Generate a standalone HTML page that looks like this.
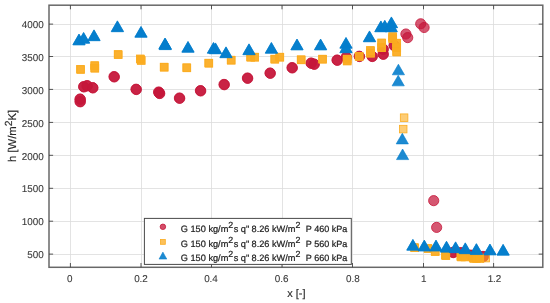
<!DOCTYPE html>
<html><head><meta charset="utf-8"><title>h vs x</title>
<style>
html,body{margin:0;padding:0;background:#fff;}
body{width:550px;height:303px;overflow:hidden;}
svg{display:block}
text{font-family:"Liberation Sans",sans-serif;fill:#333;text-rendering:geometricPrecision;}
.t{font-size:9.9px;fill:#3a3a3a;stroke:#3a3a3a;stroke-width:0.1px;}
.l{font-size:11.3px;fill:#2a2a2a;stroke:#2a2a2a;stroke-width:0.15px;}
.g{font-size:9.2px;fill:#1c1c1c;stroke:#1c1c1c;stroke-width:0.22px;}
</style></head><body>
<svg width="550" height="303" viewBox="0 0 550 303">
<rect width="550" height="303" fill="#fff"/>
<g stroke="#dcdcdc" stroke-width="0.8" fill="none">
<line x1="70.5" y1="5.2" x2="70.5" y2="267.3"/>
<line x1="141.5" y1="5.2" x2="141.5" y2="267.3"/>
<line x1="211.5" y1="5.2" x2="211.5" y2="267.3"/>
<line x1="282.5" y1="5.2" x2="282.5" y2="267.3"/>
<line x1="352.5" y1="5.2" x2="352.5" y2="267.3"/>
<line x1="423.5" y1="5.2" x2="423.5" y2="267.3"/>
<line x1="493.5" y1="5.2" x2="493.5" y2="267.3"/>
<line x1="49.0" y1="24.5" x2="542.8" y2="24.5"/>
<line x1="49.0" y1="56.5" x2="542.8" y2="56.5"/>
<line x1="49.0" y1="89.5" x2="542.8" y2="89.5"/>
<line x1="49.0" y1="122.5" x2="542.8" y2="122.5"/>
<line x1="49.0" y1="155.5" x2="542.8" y2="155.5"/>
<line x1="49.0" y1="188.5" x2="542.8" y2="188.5"/>
<line x1="49.0" y1="221.5" x2="542.8" y2="221.5"/>
<line x1="49.0" y1="254.5" x2="542.8" y2="254.5"/>
</g>
<g fill="#c5163a" fill-opacity="0.76" stroke="#c5163a" stroke-width="0.8">
<circle cx="80.00" cy="99.00" r="5.1"/>
<circle cx="80.35" cy="99.35" r="5.1"/>
<circle cx="80.00" cy="101.50" r="5.1"/>
<circle cx="80.35" cy="101.85" r="5.1"/>
<circle cx="83.60" cy="86.60" r="5.1"/>
<circle cx="83.95" cy="86.95" r="5.1"/>
<circle cx="87.00" cy="85.60" r="5.1"/>
<circle cx="87.35" cy="85.95" r="5.1"/>
<circle cx="92.60" cy="87.60" r="5.1"/>
<circle cx="92.95" cy="87.95" r="5.1"/>
<circle cx="114.00" cy="76.60" r="5.1"/>
<circle cx="114.35" cy="76.95" r="5.1"/>
<circle cx="136.00" cy="89.20" r="5.1"/>
<circle cx="136.35" cy="89.55" r="5.1"/>
<circle cx="158.60" cy="92.00" r="5.1"/>
<circle cx="158.95" cy="92.35" r="5.1"/>
<circle cx="159.40" cy="93.20" r="5.1"/>
<circle cx="159.75" cy="93.55" r="5.1"/>
<circle cx="179.40" cy="98.00" r="5.1"/>
<circle cx="179.75" cy="98.35" r="5.1"/>
<circle cx="200.40" cy="90.60" r="5.1"/>
<circle cx="200.75" cy="90.95" r="5.1"/>
<circle cx="224.00" cy="84.40" r="5.1"/>
<circle cx="224.35" cy="84.75" r="5.1"/>
<circle cx="247.40" cy="78.00" r="5.1"/>
<circle cx="247.75" cy="78.35" r="5.1"/>
<circle cx="270.00" cy="73.00" r="5.1"/>
<circle cx="270.35" cy="73.35" r="5.1"/>
<circle cx="292.00" cy="67.60" r="5.1"/>
<circle cx="292.35" cy="67.95" r="5.1"/>
<circle cx="311.00" cy="63.00" r="5.1"/>
<circle cx="311.35" cy="63.35" r="5.1"/>
<circle cx="314.00" cy="64.00" r="5.1"/>
<circle cx="314.35" cy="64.35" r="5.1"/>
<circle cx="337.00" cy="60.00" r="5.1"/>
<circle cx="337.35" cy="60.35" r="5.1"/>
<circle cx="346.20" cy="57.00" r="5.1"/>
<circle cx="346.55" cy="57.35" r="5.1"/>
<circle cx="359.20" cy="56.20" r="5.1"/>
<circle cx="359.55" cy="56.55" r="5.1"/>
<circle cx="372.00" cy="56.20" r="5.1"/>
<circle cx="372.35" cy="56.55" r="5.1"/>
<circle cx="383.00" cy="54.00" r="5.1"/>
<circle cx="383.35" cy="54.35" r="5.1"/>
<circle cx="383.00" cy="49.00" r="5.1"/>
<circle cx="383.35" cy="49.35" r="5.1"/>
<circle cx="394.00" cy="45.30" r="5.1"/>
<circle cx="394.35" cy="45.65" r="5.1"/>
<circle cx="405.90" cy="34.00" r="5.1" fill-opacity="0.72"/>
<circle cx="407.70" cy="37.60" r="5.1" fill-opacity="0.72"/>
<circle cx="420.70" cy="23.80" r="5.1" fill-opacity="0.72"/>
<circle cx="424.10" cy="27.50" r="5.1" fill-opacity="0.72"/>
<circle cx="433.70" cy="200.65" r="5.1" fill-opacity="0.72"/>
<circle cx="436.65" cy="227.40" r="5.1" fill-opacity="0.72"/>
<circle cx="453.00" cy="252.30" r="5.1"/>
<circle cx="453.35" cy="252.65" r="5.1"/>
<circle cx="460.50" cy="252.60" r="5.1"/>
<circle cx="460.85" cy="252.95" r="5.1"/>
<circle cx="470.70" cy="255.10" r="5.1"/>
<circle cx="471.05" cy="255.45" r="5.1"/>
<circle cx="483.00" cy="256.40" r="5.1"/>
<circle cx="483.35" cy="256.75" r="5.1"/>
</g>
<g fill="#fbac20" fill-opacity="0.74" stroke="#fbac20" stroke-width="0.8">
<rect x="76.62" y="65.42" width="7.55" height="7.55"/>
<rect x="76.97" y="65.77" width="7.55" height="7.55"/>
<rect x="90.82" y="61.73" width="7.55" height="7.55"/>
<rect x="91.17" y="62.08" width="7.55" height="7.55"/>
<rect x="90.82" y="64.22" width="7.55" height="7.55"/>
<rect x="91.17" y="64.57" width="7.55" height="7.55"/>
<rect x="114.22" y="50.62" width="7.55" height="7.55"/>
<rect x="114.57" y="50.98" width="7.55" height="7.55"/>
<rect x="136.42" y="55.02" width="7.55" height="7.55"/>
<rect x="136.77" y="55.38" width="7.55" height="7.55"/>
<rect x="137.22" y="56.43" width="7.55" height="7.55"/>
<rect x="137.57" y="56.78" width="7.55" height="7.55"/>
<rect x="160.22" y="63.23" width="7.55" height="7.55"/>
<rect x="160.57" y="63.58" width="7.55" height="7.55"/>
<rect x="182.82" y="63.82" width="7.55" height="7.55"/>
<rect x="183.17" y="64.17" width="7.55" height="7.55"/>
<rect x="204.82" y="59.23" width="7.55" height="7.55"/>
<rect x="205.17" y="59.58" width="7.55" height="7.55"/>
<rect x="227.22" y="56.23" width="7.55" height="7.55"/>
<rect x="227.57" y="56.58" width="7.55" height="7.55"/>
<rect x="246.72" y="53.23" width="7.55" height="7.55"/>
<rect x="247.07" y="53.58" width="7.55" height="7.55"/>
<rect x="250.72" y="53.23" width="7.55" height="7.55"/>
<rect x="251.07" y="53.58" width="7.55" height="7.55"/>
<rect x="270.83" y="55.23" width="7.55" height="7.55"/>
<rect x="271.18" y="55.58" width="7.55" height="7.55"/>
<rect x="275.83" y="53.23" width="7.55" height="7.55"/>
<rect x="276.18" y="53.58" width="7.55" height="7.55"/>
<rect x="297.23" y="55.83" width="7.55" height="7.55"/>
<rect x="297.58" y="56.18" width="7.55" height="7.55"/>
<rect x="318.62" y="55.23" width="7.55" height="7.55"/>
<rect x="318.98" y="55.58" width="7.55" height="7.55"/>
<rect x="343.23" y="55.23" width="7.55" height="7.55"/>
<rect x="343.58" y="55.58" width="7.55" height="7.55"/>
<rect x="343.23" y="57.02" width="7.55" height="7.55"/>
<rect x="343.58" y="57.38" width="7.55" height="7.55"/>
<rect x="355.23" y="52.43" width="7.55" height="7.55"/>
<rect x="355.58" y="52.78" width="7.55" height="7.55"/>
<rect x="366.53" y="46.62" width="7.55" height="7.55"/>
<rect x="366.88" y="46.98" width="7.55" height="7.55"/>
<rect x="366.53" y="49.23" width="7.55" height="7.55"/>
<rect x="366.88" y="49.58" width="7.55" height="7.55"/>
<rect x="377.73" y="39.02" width="7.55" height="7.55"/>
<rect x="378.08" y="39.38" width="7.55" height="7.55"/>
<rect x="377.73" y="43.62" width="7.55" height="7.55"/>
<rect x="378.08" y="43.98" width="7.55" height="7.55"/>
<rect x="388.73" y="32.73" width="7.55" height="7.55"/>
<rect x="389.08" y="33.08" width="7.55" height="7.55"/>
<rect x="388.73" y="34.73" width="7.55" height="7.55"/>
<rect x="389.08" y="35.08" width="7.55" height="7.55"/>
<rect x="392.73" y="39.23" width="7.55" height="7.55"/>
<rect x="393.08" y="39.58" width="7.55" height="7.55"/>
<rect x="392.73" y="43.73" width="7.55" height="7.55"/>
<rect x="393.08" y="44.08" width="7.55" height="7.55"/>
<rect x="392.73" y="48.02" width="7.55" height="7.55"/>
<rect x="393.08" y="48.38" width="7.55" height="7.55"/>
<rect x="400.33" y="113.92" width="7.55" height="7.55" fill-opacity="0.62"/>
<rect x="399.43" y="125.32" width="7.55" height="7.55" fill-opacity="0.62"/>
<rect x="410.62" y="243.72" width="7.55" height="7.55"/>
<rect x="410.98" y="244.07" width="7.55" height="7.55"/>
<rect x="424.03" y="244.53" width="7.55" height="7.55"/>
<rect x="424.38" y="244.88" width="7.55" height="7.55"/>
<rect x="431.23" y="247.62" width="7.55" height="7.55"/>
<rect x="431.58" y="247.97" width="7.55" height="7.55"/>
<rect x="441.53" y="251.32" width="7.55" height="7.55"/>
<rect x="441.88" y="251.67" width="7.55" height="7.55"/>
<rect x="442.23" y="252.02" width="7.55" height="7.55"/>
<rect x="456.93" y="252.62" width="7.55" height="7.55"/>
<rect x="457.28" y="252.97" width="7.55" height="7.55"/>
<rect x="457.62" y="253.32" width="7.55" height="7.55"/>
<rect x="460.53" y="252.62" width="7.55" height="7.55"/>
<rect x="460.88" y="252.97" width="7.55" height="7.55"/>
<rect x="461.23" y="253.32" width="7.55" height="7.55"/>
<rect x="469.33" y="254.03" width="7.55" height="7.55"/>
<rect x="469.68" y="254.38" width="7.55" height="7.55"/>
<rect x="470.03" y="254.72" width="7.55" height="7.55"/>
<rect x="472.23" y="254.03" width="7.55" height="7.55"/>
<rect x="472.58" y="254.38" width="7.55" height="7.55"/>
<rect x="472.93" y="254.72" width="7.55" height="7.55"/>
<rect x="475.43" y="254.03" width="7.55" height="7.55"/>
<rect x="475.78" y="254.38" width="7.55" height="7.55"/>
<rect x="476.12" y="254.72" width="7.55" height="7.55"/>
<rect x="482.03" y="254.33" width="7.55" height="7.55" fill-opacity="0.62"/>
</g>
<g fill="#047dcc" fill-opacity="0.9" stroke="#047dcc" stroke-width="0.6" stroke-linejoin="miter">
<path d="M79.00 34.00L85.10 44.60L72.90 44.60Z"/>
<path d="M79.00 34.35L85.10 44.95L72.90 44.95Z"/>
<path d="M83.60 32.40L89.70 43.00L77.50 43.00Z"/>
<path d="M83.60 32.75L89.70 43.35L77.50 43.35Z"/>
<path d="M94.00 29.80L100.10 40.40L87.90 40.40Z"/>
<path d="M94.00 30.15L100.10 40.75L87.90 40.75Z"/>
<path d="M117.40 20.80L123.50 31.40L111.30 31.40Z"/>
<path d="M117.40 21.15L123.50 31.75L111.30 31.75Z"/>
<path d="M141.00 26.40L147.10 37.00L134.90 37.00Z"/>
<path d="M141.00 26.75L147.10 37.35L134.90 37.35Z"/>
<path d="M165.00 38.00L171.10 48.60L158.90 48.60Z"/>
<path d="M165.00 38.35L171.10 48.95L158.90 48.95Z"/>
<path d="M165.30 38.70L171.40 49.30L159.20 49.30Z"/>
<path d="M165.30 39.05L171.40 49.65L159.20 49.65Z"/>
<path d="M188.00 41.40L194.10 52.00L181.90 52.00Z"/>
<path d="M188.00 41.75L194.10 52.35L181.90 52.35Z"/>
<path d="M213.50 42.40L219.60 53.00L207.40 53.00Z"/>
<path d="M213.50 42.75L219.60 53.35L207.40 53.35Z"/>
<path d="M215.50 42.90L221.60 53.50L209.40 53.50Z"/>
<path d="M215.50 43.25L221.60 53.85L209.40 53.85Z"/>
<path d="M226.00 46.80L232.10 57.40L219.90 57.40Z"/>
<path d="M226.00 47.15L232.10 57.75L219.90 57.75Z"/>
<path d="M249.00 43.80L255.10 54.40L242.90 54.40Z"/>
<path d="M249.00 44.15L255.10 54.75L242.90 54.75Z"/>
<path d="M271.40 42.40L277.50 53.00L265.30 53.00Z"/>
<path d="M271.40 42.75L277.50 53.35L265.30 53.35Z"/>
<path d="M297.00 39.00L303.10 49.60L290.90 49.60Z"/>
<path d="M297.00 39.35L303.10 49.95L290.90 49.95Z"/>
<path d="M320.60 39.00L326.70 49.60L314.50 49.60Z"/>
<path d="M320.60 39.35L326.70 49.95L314.50 49.95Z"/>
<path d="M346.00 37.40L352.10 48.00L339.90 48.00Z"/>
<path d="M346.00 37.75L352.10 48.35L339.90 48.35Z"/>
<path d="M346.00 41.90L352.10 52.50L339.90 52.50Z"/>
<path d="M346.00 42.25L352.10 52.85L339.90 52.85Z"/>
<path d="M369.50 30.90L375.60 41.50L363.40 41.50Z"/>
<path d="M369.50 31.25L375.60 41.85L363.40 41.85Z"/>
<path d="M380.90 20.90L387.00 31.50L374.80 31.50Z"/>
<path d="M380.90 21.25L387.00 31.85L374.80 31.85Z"/>
<path d="M384.80 20.30L390.90 30.90L378.70 30.90Z"/>
<path d="M384.80 20.65L390.90 31.25L378.70 31.25Z"/>
<path d="M391.40 16.90L397.50 27.50L385.30 27.50Z"/>
<path d="M391.40 17.25L397.50 27.85L385.30 27.85Z"/>
<path d="M391.20 20.90L397.30 31.50L385.10 31.50Z"/>
<path d="M391.20 21.25L397.30 31.85L385.10 31.85Z"/>
<path d="M398.40 64.20L404.50 74.80L392.30 74.80Z"/>
<path d="M398.20 75.25L404.30 85.85L392.10 85.85Z"/>
<path d="M402.30 133.30L408.40 143.90L396.20 143.90Z"/>
<path d="M402.60 149.00L408.70 159.60L396.50 159.60Z"/>
<path d="M412.90 239.35L419.00 249.95L406.80 249.95Z"/>
<path d="M412.90 239.70L419.00 250.30L406.80 250.30Z"/>
<path d="M424.30 240.10L430.40 250.70L418.20 250.70Z"/>
<path d="M424.30 240.45L430.40 251.05L418.20 251.05Z"/>
<path d="M436.00 240.10L442.10 250.70L429.90 250.70Z"/>
<path d="M436.00 240.45L442.10 251.05L429.90 251.05Z"/>
<path d="M446.50 241.20L452.60 251.80L440.40 251.80Z"/>
<path d="M446.50 241.55L452.60 252.15L440.40 252.15Z"/>
<path d="M455.60 241.80L461.70 252.40L449.50 252.40Z"/>
<path d="M455.60 242.15L461.70 252.75L449.50 252.75Z"/>
<path d="M465.30 242.80L471.40 253.40L459.20 253.40Z"/>
<path d="M465.30 243.15L471.40 253.75L459.20 253.75Z"/>
<path d="M476.40 243.60L482.50 254.20L470.30 254.20Z"/>
<path d="M476.40 243.95L482.50 254.55L470.30 254.55Z"/>
<path d="M489.95 244.00L496.05 254.60L483.85 254.60Z"/>
<path d="M489.95 244.35L496.05 254.95L483.85 254.95Z"/>
<path d="M503.10 244.30L509.20 254.90L497.00 254.90Z"/>
<path d="M503.10 244.65L509.20 255.25L497.00 255.25Z"/>
</g>
<g stroke="#686868" stroke-width="1.5" fill="none">
<rect x="49.0" y="5.2" width="493.79999999999995" height="262.1"/>
</g><g stroke="#3a3a3a" stroke-width="0.85" fill="none">
<line x1="70.40" y1="267.3" x2="70.40" y2="263.0"/><line x1="70.40" y1="5.2" x2="70.40" y2="9.3"/>
<line x1="141.00" y1="267.3" x2="141.00" y2="263.0"/><line x1="141.00" y1="5.2" x2="141.00" y2="9.3"/>
<line x1="211.50" y1="267.3" x2="211.50" y2="263.0"/><line x1="211.50" y1="5.2" x2="211.50" y2="9.3"/>
<line x1="282.00" y1="267.3" x2="282.00" y2="263.0"/><line x1="282.00" y1="5.2" x2="282.00" y2="9.3"/>
<line x1="352.50" y1="267.3" x2="352.50" y2="263.0"/><line x1="352.50" y1="5.2" x2="352.50" y2="9.3"/>
<line x1="423.50" y1="267.3" x2="423.50" y2="263.0"/><line x1="423.50" y1="5.2" x2="423.50" y2="9.3"/>
<line x1="493.60" y1="267.3" x2="493.60" y2="263.0"/><line x1="493.60" y1="5.2" x2="493.60" y2="9.3"/>
<line x1="49.0" y1="24.10" x2="53.1" y2="24.10"/><line x1="542.8" y1="24.10" x2="538.6999999999999" y2="24.10"/>
<line x1="49.0" y1="56.50" x2="53.1" y2="56.50"/><line x1="542.8" y1="56.50" x2="538.6999999999999" y2="56.50"/>
<line x1="49.0" y1="89.40" x2="53.1" y2="89.40"/><line x1="542.8" y1="89.40" x2="538.6999999999999" y2="89.40"/>
<line x1="49.0" y1="122.40" x2="53.1" y2="122.40"/><line x1="542.8" y1="122.40" x2="538.6999999999999" y2="122.40"/>
<line x1="49.0" y1="155.30" x2="53.1" y2="155.30"/><line x1="542.8" y1="155.30" x2="538.6999999999999" y2="155.30"/>
<line x1="49.0" y1="188.30" x2="53.1" y2="188.30"/><line x1="542.8" y1="188.30" x2="538.6999999999999" y2="188.30"/>
<line x1="49.0" y1="221.20" x2="53.1" y2="221.20"/><line x1="542.8" y1="221.20" x2="538.6999999999999" y2="221.20"/>
<line x1="49.0" y1="254.10" x2="53.1" y2="254.10"/><line x1="542.8" y1="254.10" x2="538.6999999999999" y2="254.10"/>
</g>
<text class="t" x="69.80" y="282.4" text-anchor="middle">0</text>
<text class="t" x="141.00" y="282.4" text-anchor="middle">0.2</text>
<text class="t" x="211.00" y="282.4" text-anchor="middle">0.4</text>
<text class="t" x="281.60" y="282.4" text-anchor="middle">0.6</text>
<text class="t" x="352.90" y="282.4" text-anchor="middle">0.8</text>
<text class="t" x="423.70" y="282.4" text-anchor="middle">1</text>
<text class="t" x="494.50" y="282.4" text-anchor="middle">1.2</text>
<text class="t" x="43.8" y="28.40" text-anchor="end">4000</text>
<text class="t" x="43.8" y="61.40" text-anchor="end">3500</text>
<text class="t" x="43.8" y="94.40" text-anchor="end">3000</text>
<text class="t" x="43.8" y="127.40" text-anchor="end">2500</text>
<text class="t" x="43.8" y="160.40" text-anchor="end">2000</text>
<text class="t" x="43.8" y="192.30" text-anchor="end">1500</text>
<text class="t" x="43.8" y="225.30" text-anchor="end">1000</text>
<text class="t" x="43.8" y="258.30" text-anchor="end">500</text>
<text class="l" style="font-size:11px" x="296.4" y="297.4" text-anchor="middle">x [-]</text>
<text class="l" transform="translate(16.4 135.9) rotate(-90)" text-anchor="middle">h [W/m<tspan dy="-4.8" font-size="10.3">2</tspan><tspan dy="4.8">K]</tspan></text>
<rect x="144.4" y="218.4" width="206.9" height="46.0" fill="#fff" stroke="#4a4a4a" stroke-width="1"/>
<circle cx="162.9" cy="226.8" r="2.75" fill="#c5163a" fill-opacity="0.76" stroke="#c5163a" stroke-width="0.8"/>
<rect x="160.5" y="239.5" width="4.8" height="4.8" fill="#fbac20" fill-opacity="0.74" stroke="#fbac20" stroke-width="0.8"/>
<path d="M162.9 252.10000000000002L166.8 259.1L159 259.1Z" fill="#047dcc" fill-opacity="0.9" stroke="#047dcc" stroke-width="0.5"/>
<text class="g" x="180.8" y="232.4" xml:space="preserve">G 150 kg/m<tspan dy="-4.1" font-size="8.8">2</tspan><tspan dy="4.1" dx="0.5">s q"</tspan><tspan dx="-0.2"> 8.26 kW/m</tspan><tspan dy="-4.1" font-size="8.8">2</tspan><tspan dy="4.1" dx="0.4" font-size="9">  P 460 kPa</tspan></text>
<text class="g" x="180.8" y="247.2" xml:space="preserve">G 150 kg/m<tspan dy="-4.1" font-size="8.8">2</tspan><tspan dy="4.1" dx="0.5">s q"</tspan><tspan dx="-0.2"> 8.26 kW/m</tspan><tspan dy="-4.1" font-size="8.8">2</tspan><tspan dy="4.1" dx="0.4" font-size="9">  P 560 kPa</tspan></text>
<text class="g" x="180.8" y="261.4" xml:space="preserve">G 150 kg/m<tspan dy="-4.1" font-size="8.8">2</tspan><tspan dy="4.1" dx="0.5">s q"</tspan><tspan dx="-0.2"> 8.26 kW/m</tspan><tspan dy="-4.1" font-size="8.8">2</tspan><tspan dy="4.1" dx="0.4" font-size="9">  P 660 kPa</tspan></text>
</svg></body></html>
